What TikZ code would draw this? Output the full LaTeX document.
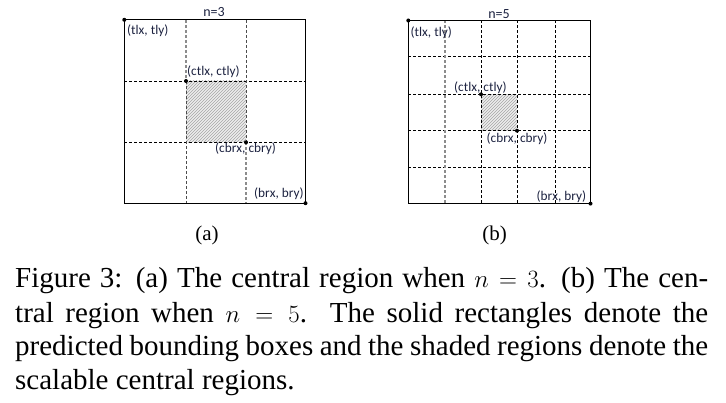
\documentclass[tikz,border=0pt]{standalone}
\usepackage{fontspec}
\setmainfont{Liberation Serif}
\newfontfamily\labfont{Carlito}
\usetikzlibrary{patterns}
\definecolor{labcol}{RGB}{28,34,64}
\tikzset{
  frame/.style={draw=black, line width=1.1pt},
  gridline/.style={draw=black, line width=0.8pt, dash pattern=on 3pt off 2pt},
  grayline/.style={draw=black!45, line width=1.1pt, dash pattern=on 3pt off 2pt},
  darkline/.style={draw=black!70, line width=0.9pt, dash pattern=on 3pt off 2pt},
  corner/.style={circle, fill=black, inner sep=0pt, minimum size=4pt},
  lbl/.style={font=\labfont\fontsize{13.3}{15}\selectfont, text=labcol, inner sep=0pt, anchor=west},
  ntitle/.style={font=\labfont\fontsize{14}{16}\selectfont, text=labcol, inner sep=0pt, anchor=base},
  hatch/.style={preaction={fill=black!7}, pattern=north east lines, pattern color=black!35},
  sub/.style={font=\fontsize{21}{25}\selectfont, inner sep=0pt, anchor=base},
  capline/.style={font=\fontsize{29}{33}\selectfont, inner sep=0pt, anchor=base west}
}
\begin{document}
\begin{tikzpicture}[x=1pt,y=-1pt]
\useasboundingbox (0,0) rectangle (726,403);
% ---------- (a) n=3 ----------
\coordinate (atl) at (124.3,19.8);
\coordinate (abr) at (305.5,203.2);
\coordinate (actl) at (186,81);
\coordinate (acbr) at (246,142.3);
\fill[hatch] (actl) rectangle (acbr);
\draw[gridline] (124.3,81) -- (305.5,81);
\draw[gridline] (124.3,142.3) -- (305.5,142.3);
\draw[grayline] (186,19.8) -- (186,81);
\draw[darkline] (186,81) -- (186,203.2);
\draw[darkline] (246,19.8) -- (246,142.3);
\draw[grayline] (246,142.3) -- (246,203.2);
\draw[frame] (atl) rectangle (abr);
\node[corner] (a1) at (atl) {};
\node[corner] (a2) at (actl) {};
\node[corner] (a3) at (acbr) {};
\node[corner] (a4) at (abr) {};
\node[ntitle] (an) at (214,16.5) {n=3};
\node[lbl] (atlt) at (127,31) {(tlx, tly)};
\node[lbl] (actlt) at (187,71.5) {(ctlx, ctly)};
\node[lbl] (acbrt) at (215,148.5) {(cbrx, cbry)};
\node[lbl] (abrt) at (254,193.5) {(brx, bry)};
% ---------- (b) n=5 ----------
\coordinate (btl) at (408.3,20.5);
\coordinate (bbr) at (590.5,203.6);
\coordinate (bctl) at (481,94.3);
\coordinate (bcbr) at (517,130.7);
\fill[hatch] (bctl) rectangle (bcbr);
\foreach \yy in {56.9,94.3,130.7,167.3}
  \draw[gridline] (408.3,\yy) -- (590.5,\yy);
\foreach \xx in {481,517,555.7}
  \draw[gridline] (\xx,20.5) -- (\xx,203.6);
\draw[grayline] (445,20.5) -- (445,203.6);
\draw[frame] (btl) rectangle (bbr);
\node[corner] (b1) at (btl) {};
\node[corner] (b2) at (bctl) {};
\node[corner] (b3) at (bcbr) {};
\node[corner] (b4) at (bbr) {};
\node[ntitle] (bn) at (499,19) {n=5};
\node[lbl] (btlt) at (410.5,32.5) {(tlx, tly)};
\node[lbl] (bctlt) at (454,87.5) {(ctlx, ctly)};
\node[lbl] (bcbrt) at (486.5,138.5) {(cbrx, cbry)};
\node[lbl] (bbrt) at (536.5,197) {(brx, bry)};
% ---------- sub-captions ----------
\node[sub] (suba) at (207,240.5) {(a)};
\node[sub] (subb) at (494.5,240.5) {(b)};
% ---------- caption ----------
\node[capline] (c1) at (15,288) {\makebox[693pt][s]{Figure 3: (a) The central region when $n=3$. (b) The cen-}};
\node[capline] (c2) at (15,322.5) {\makebox[693pt][s]{tral region when $n=5$. The solid rectangles denote the}};
\node[capline] (c3) at (15,356) {\makebox[693pt][s]{predicted bounding boxes and the shaded regions denote the}};
\node[capline] (c4) at (15,389.5) {scalable central regions.};
\end{tikzpicture}
\end{document}
